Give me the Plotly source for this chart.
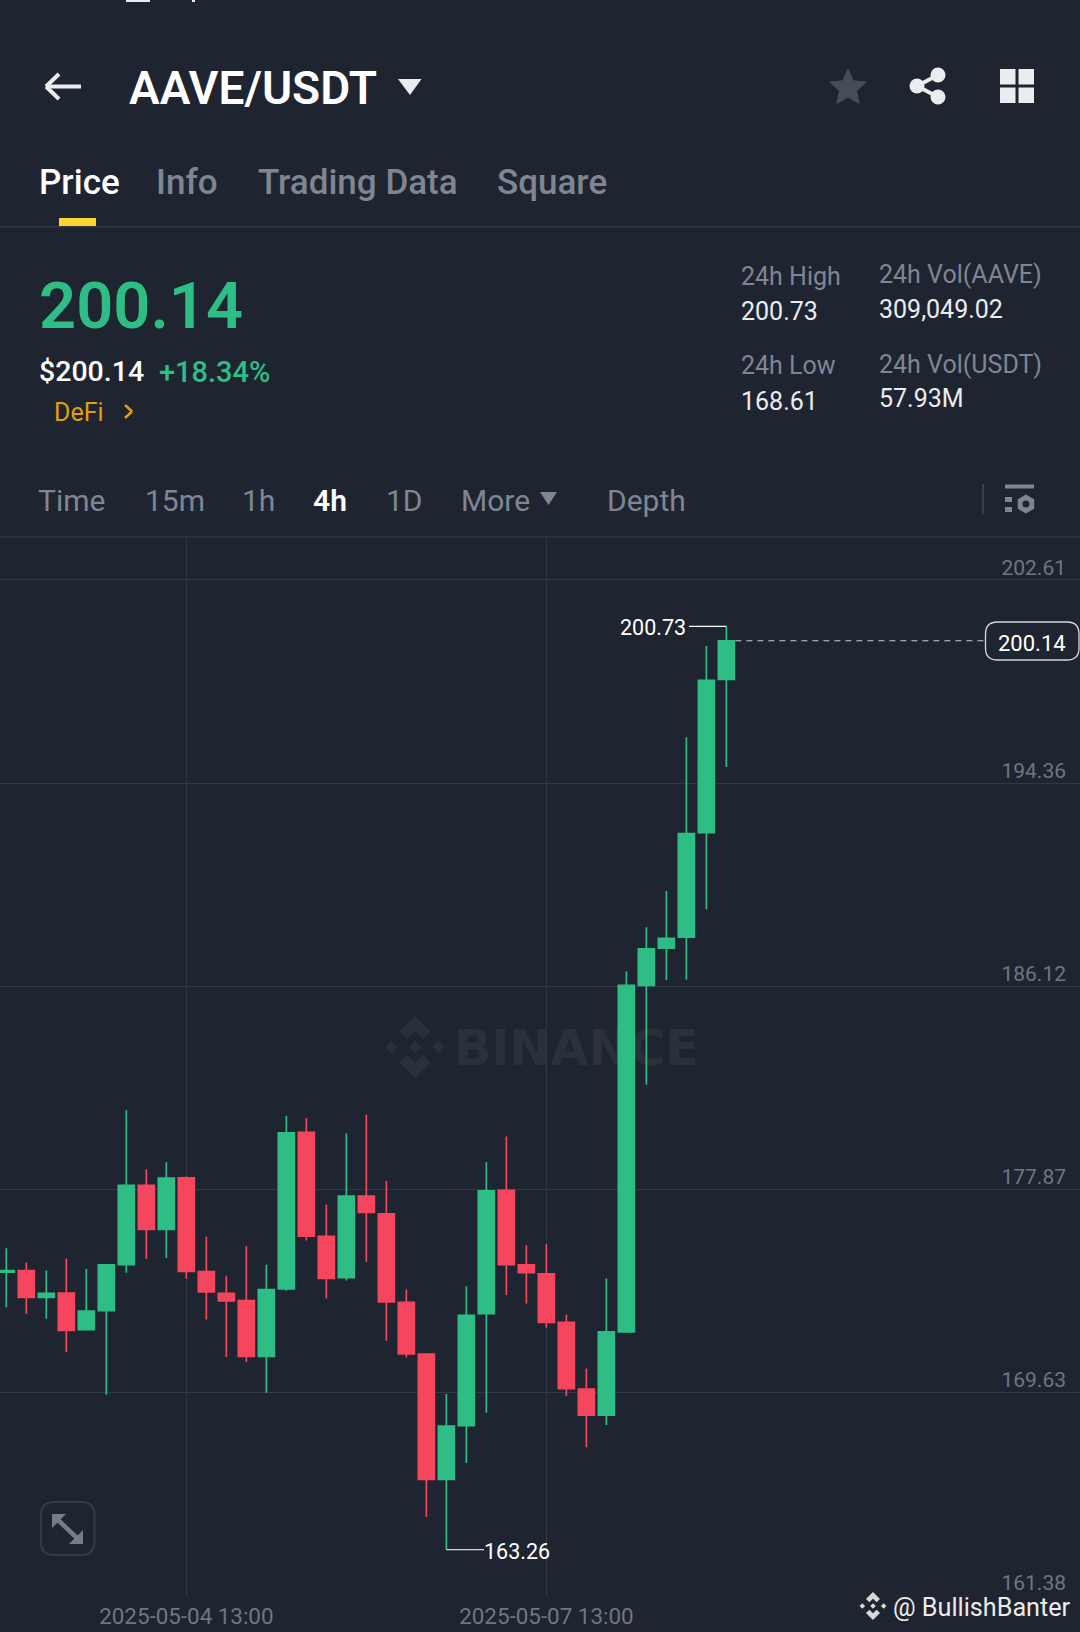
import math

import pandas as pd
import plotly.graph_objects as go

# 4h candles
bar_start = '2025-05-03 01:00'
opens = [174.51, 174.58, 173.49, 173.66, 172.18, 172.95, 174.82, 178.04, 176.25, 178.34,
         174.54, 173.65, 173.36, 171.10, 173.84, 180.19, 175.97, 174.29, 177.60, 176.88,
         173.29, 171.19, 166.10, 168.29, 172.83, 177.83, 174.81, 174.45, 172.48, 169.77,
         168.71, 172.09, 186.15, 187.66, 188.11, 192.35, 198.57]
highs = [175.48, 174.91, 174.58, 175.07, 174.64, 174.82, 181.09, 178.69, 178.97, 178.40,
         175.95, 174.37, 175.57, 174.82, 180.86, 180.77, 177.25, 180.14, 180.90, 178.21,
         173.81, 171.20, 169.57, 173.94, 178.97, 180.02, 175.61, 175.65, 172.79, 170.60,
         174.26, 186.73, 188.51, 189.98, 196.22, 199.93, 200.73]
lows = [173.09, 172.82, 172.62, 171.27, 172.15, 169.54, 174.49, 175.05, 175.09, 174.25,
        172.59, 171.07, 170.87, 169.62, 173.76, 175.80, 173.45, 174.18, 174.94, 171.73,
        171.05, 164.58, 163.26, 166.77, 168.81, 173.59, 173.24, 172.26, 169.49, 167.41,
        168.31, 172.05, 182.13, 186.37, 186.38, 189.24, 195.02]
closes = [174.58, 173.49, 173.65, 172.15, 172.93, 174.81, 178.04, 176.25, 178.33, 174.55,
          173.71, 173.35, 171.10, 173.81, 180.17, 175.98, 174.26, 177.60, 176.94, 173.31,
          171.20, 166.10, 168.27, 172.76, 177.81, 174.82, 174.49, 172.48, 169.79, 168.71,
          172.09, 186.15, 187.64, 188.06, 192.31, 198.53, 200.14]

price_ticks = [202.61, 194.36, 186.12, 177.87, 169.63, 161.38]
date_ticks = ['2025-05-04 13:00', '2025-05-07 13:00']

tabs = ['Price', 'Info', 'Trading Data', 'Square']
intervals = ['Time', '15m', '1h', '4h', '1D', 'More', 'Depth']

W, H = 1080, 1632
BG = '#1F2530'
GRID = '#333944'
GREEN = '#2EBD85'
RED = '#F6465D'
GRAY = '#7F8693'
DIM = '#6F7683'
WHITE = '#EAECEF'
FONT = 'Roboto'

PLOT_TOP, PLOT_BOTTOM = 537, 1595.8
Y_MAX = 204.35

dates = pd.date_range(bar_start, periods=len(opens), freq='4h')


def at_bar(i):
    # date for a fractional bar position, one bar is 20px wide
    return dates[0] + pd.Timedelta(hours=4) * i


def px(x):
    return x / W


def py(y):
    return 1 - y / H


shapes = []
annotations = []


def label(text, x, y, size, color=GRAY, anchor='left', weight=400):
    annotations.append(dict(text=text, x=px(x), y=py(y), xref='paper', yref='paper',
                            xanchor=anchor, yanchor='middle', showarrow=False, borderpad=0,
                            font=dict(family=FONT, size=size, color=color, weight=weight)))


def poly(points, color, layer='above'):
    path = 'M' + ' L'.join(f'{px(a):.5f},{py(b):.5f}' for a, b in points) + ' Z'
    shapes.append(dict(type='path', path=path, xref='paper', yref='paper', layer=layer,
                       fillcolor=color, line=dict(width=0)))


def rect(x0, y0, x1, y1, color):
    shapes.append(dict(type='rect', x0=px(x0), x1=px(x1), y0=py(y0), y1=py(y1), xref='paper',
                       yref='paper', fillcolor=color, line=dict(width=0)))


def seg(x0, y0, x1, y1, color, width=1):
    shapes.append(dict(type='line', x0=px(x0), x1=px(x1), y0=py(y0), y1=py(y1), xref='paper',
                       yref='paper', line=dict(color=color, width=width)))


def circle(cx, cy, r, color):
    shapes.append(dict(type='circle', x0=px(cx - r), x1=px(cx + r), y0=py(cy - r), y1=py(cy + r),
                       xref='paper', yref='paper', fillcolor=color, line=dict(width=0)))


def round_box(x0, y0, x1, y1, r, color, width):
    path = (f'M{px(x0 + r):.5f},{py(y0):.5f} L{px(x1 - r):.5f},{py(y0):.5f} '
            f'Q{px(x1):.5f},{py(y0):.5f} {px(x1):.5f},{py(y0 + r):.5f} '
            f'L{px(x1):.5f},{py(y1 - r):.5f} Q{px(x1):.5f},{py(y1):.5f} {px(x1 - r):.5f},{py(y1):.5f} '
            f'L{px(x0 + r):.5f},{py(y1):.5f} Q{px(x0):.5f},{py(y1):.5f} {px(x0):.5f},{py(y1 - r):.5f} '
            f'L{px(x0):.5f},{py(y0 + r):.5f} Q{px(x0):.5f},{py(y0):.5f} {px(x0 + r):.5f},{py(y0):.5f} Z')
    shapes.append(dict(type='path', path=path, xref='paper', yref='paper',
                       line=dict(color=color, width=width)))


def logo(cx, cy, r, color, layer='above'):
    top = [(0, -1), (.5, -.5), (.26, -.26), (0, -.52), (-.26, -.26), (-.5, -.5)]
    poly([(cx + a * r, cy + b * r) for a, b in top], color, layer)
    poly([(cx + a * r, cy - b * r) for a, b in top], color, layer)
    for dx in (-.76, 0, .76):
        d = .2 * r
        c = cx + dx * r
        poly([(c, cy - d), (c + d, cy), (c, cy + d), (c - d, cy)], color, layer)


# Status bar leftovers at the very top
rect(126, 0, 150, 2, WHITE)
rect(192, 0, 195, 2, WHITE)

# Header row
seg(47, 86.5, 81, 86.5, WHITE, 4)
seg(46, 86.5, 59, 74, WHITE, 4)
seg(46, 86.5, 59, 99, WHITE, 4)
label('AAVE/USDT', 128, 88, 46, 'white', weight=600)
poly([(398, 79), (421.5, 79), (410, 95)], WHITE)

star = []
for k in range(10):
    r = 20 if k % 2 == 0 else 9.5
    a = -math.pi / 2 + k * math.pi / 5
    star.append((848 + r * math.cos(a), 88 + r * math.sin(a)))
poly(star, '#474D57')

seg(917, 86, 938, 75, WHITE, 4)
seg(917, 86, 938, 97, WHITE, 4)
circle(917, 86, 7.5, WHITE)
circle(938, 75, 7.5, WHITE)
circle(938, 97, 7.5, WHITE)
for gx in (1000, 1018.5):
    for gy in (69, 87.5):
        rect(gx, gy, gx + 15.5, gy + 15.5, WHITE)

# Tabs
for name, tx in zip(tabs, [38, 155, 257, 496]):
    label(name, tx, 182, 35, 'white' if name == 'Price' else GRAY, weight=500)
rect(59, 218, 96, 226, '#FCD535')
rect(0, 226, W, 227.5, '#323844')

# Price block
label('200.14', 38, 305.5, 65, GREEN, weight=600)
label('$200.14', 38, 372, 28.5, 'white', weight=500)
label('+18.34%', 158, 372, 29, GREEN, weight=500)
label('DeFi', 53, 412, 25, '#E0A00E')
seg(125, 405, 132, 411.5, '#E0A00E', 2.5)
seg(132, 411.5, 125, 418, '#E0A00E', 2.5)

label('24h High', 740, 276, 25)
label('200.73', 740, 311, 25, WHITE)
label('24h Low', 740, 366, 25)
label('168.61', 740, 401, 25, WHITE)
label('24h Vol(AAVE)', 878, 275, 25)
label('309,049.02', 878, 309, 25, WHITE)
label('24h Vol(USDT)', 878, 364, 25)
label('57.93M', 878, 398.5, 25, WHITE)

# Interval row
for name, tx in zip(intervals, [37, 144, 241, 312, 385, 460, 606]):
    if name == '4h':
        label(name, tx, 500, 30, 'white', weight=600)
    else:
        label(name, tx, 500, 30)
poly([(540, 492), (557, 492), (548.5, 505)], GRAY)
seg(983, 484, 983, 514, '#3A404B', 2)
rect(1005, 484.5, 1034, 488.5, GRAY)
rect(1005, 497, 1012, 502, GRAY)
rect(1005, 507, 1012, 512, GRAY)
hexagon = [(1026 + 9.5 * math.cos(math.pi / 6 + k * math.pi / 3),
            504 + 9.5 * math.sin(math.pi / 6 + k * math.pi / 3)) for k in range(6)]
poly(hexagon, GRAY)
circle(1026, 504, 3.5, BG)
rect(0, PLOT_TOP - 1, W, PLOT_TOP + 1, '#2B313B')

# Expand button
round_box(41, 1502, 94.5, 1555, 13, '#353B47', 2)
seg(58, 1520, 77, 1538, '#757D89', 4.5)
poly([(52, 1514), (66, 1514), (52, 1528)], '#757D89')
poly([(83, 1544), (69, 1544), (83, 1530)], '#757D89')

# Watermark logo, under the candles
logo(415, 1047, 31, '#2B313C', layer='below')

# Current price line and its label
shapes.append(dict(type='line', xref='x', yref='y', x0=at_bar(36.45), x1=at_bar(48.93),
                   y0=closes[-1], y1=closes[-1], line=dict(color='#C9CCD2', width=1.2, dash='6px,5px')))
round_box(985.5, 622, 1079, 660, 12, '#D5D8DC', 1.3)
label(f'{closes[-1]:.2f}', 1032, 644, 22, 'white', anchor='center')

# High / low markers
seg(689, 626.4, 726.3, 626.4, 'white', 1.3)
label(f'{max(highs):.2f}', 687, 627, 21.5, 'white', anchor='right')
seg(446.3, 1549.7, 484, 1549.7, '#D5D8DC', 1.3)
label(f'{min(lows):.2f}', 483, 1551, 21.5, 'white')

# Author tag bottom right
logo(873, 1606, 14, '#D8D8D8')
label('@ BullishBanter', 892, 1607, 25.2, '#ECECEC')

fig = go.Figure()

# BINANCE text sits on the main axes so the overlaid candles cover it
fig.add_trace(go.Scatter(
    x=[at_bar(28.5)], y=[183.4], mode='text', text=['BINANCE'], textposition='middle center',
    textfont=dict(family='DejaVu Sans', size=49, color='#2B313C', weight=700),
    showlegend=False, hoverinfo='skip', cliponaxis=False,
))

fig.add_trace(go.Candlestick(
    x=dates, open=opens, high=highs, low=lows, close=closes, yaxis='y2', whiskerwidth=0,
    increasing=dict(line=dict(color=GREEN, width=1.7), fillcolor=GREEN),
    decreasing=dict(line=dict(color=RED, width=1.7), fillcolor=RED),
    showlegend=False,
))

y_range = [price_ticks[-1], Y_MAX]
y_domain = [1 - PLOT_BOTTOM / H, 1 - PLOT_TOP / H]

fig.update_layout(
    width=W, height=H, autosize=False,
    margin=dict(l=0, r=0, t=0, b=0),
    paper_bgcolor=BG, plot_bgcolor=BG,
    boxgap=0.2, boxgroupgap=0,
    shapes=shapes, annotations=annotations,
    xaxis=dict(
        range=[at_bar(-0.3165), at_bar(53.68)], domain=[0, 1], rangeslider=dict(visible=False),
        tickmode='array', tickvals=date_ticks, ticktext=date_ticks,
        showgrid=True, gridcolor=GRID, gridwidth=1, zeroline=False, showline=False, ticks='',
        ticklabelstandoff=5,
        tickfont=dict(family=FONT, size=22.4, color=DIM),
    ),
    yaxis=dict(
        range=y_range, domain=y_domain, side='right', ticklabelposition='inside top',
        tickmode='array', tickvals=price_ticks, ticktext=[f'{v:.2f}' for v in price_ticks],
        showgrid=True, gridcolor=GRID, gridwidth=1, zeroline=False, showline=False, ticks='',
        ticklabelstandoff=11, ticklabelshift=2,
        tickfont=dict(family=FONT, size=21, color=DIM),
    ),
    yaxis2=dict(range=y_range, domain=y_domain, overlaying='y', visible=False),
)

# page body has a default 8px margin, the chart should fill the window
fig.write_html('out.html', config=dict(displayModeBar=False),
               post_script="document.body.style.margin='0';")
